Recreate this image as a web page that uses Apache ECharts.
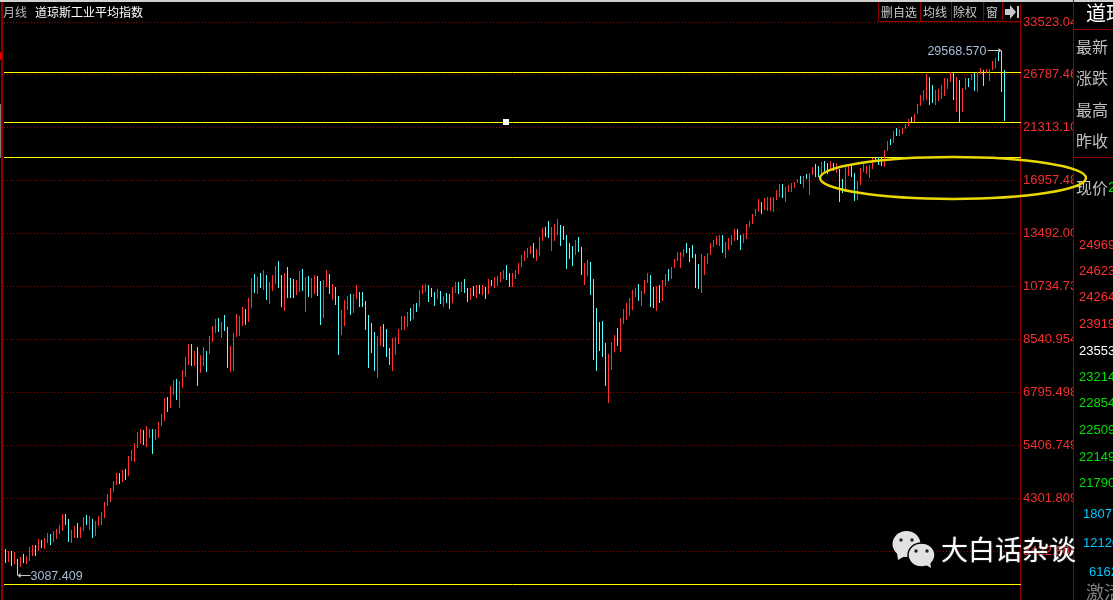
<!DOCTYPE html>
<html><head><meta charset="utf-8">
<style>html,body{margin:0;padding:0;background:#000;overflow:hidden}#c{width:1113px;height:600px}</style>
<script src="https://cdn.jsdelivr.net/npm/echarts@6/dist/echarts.min.js"></script>
</head><body><div id="c"></div>
<script>
const monthHighs=[3459,3429,3429,3414,3313,3342,3385,3356,3489,3519,
3519,3611,3596,3626,3706,3690,3738,3770,3836,4022,
4022,3936,3754,3820,3869,3803,3970,4005,3987,3936,
3903,3987,4057,4236,4385,4500,4638,4800,4800,4863,
4883,5165,5301,5463,5728,5803,5778,5878,5803,5803,
5803,5981,6191,6633,6661,6984,7168,7198,7137,7484,
7915,8372,8372,8123,8264,7983,8264,8123,8665,9047,
9324,9364,9205,9487,9008,8300,8778,9528,9446,9819,
9735,10208,11127,11321,11175,11370,11519,11273,10938,11273,
11718,11974,11273,11370,11668,11127,11079,11033,11469,11567,
11175,11224,11127,11273,11224,10985,11033,11519,11321,10844,
10704,10296,9694,10121,10296,10386,10386,10797,10476,10476,
10077,9487,9165,8816,8665,9047,9126,8931,8228,8590,
8628,8931,9446,9446,9611,9777,9947,9990,10567,10797,
10844,10797,10658,10476,10612,10521,10296,10431,10386,10704,
10938,10938,10938,11079,10658,10658,10751,10797,10797,10797,
10704,11079,11033,11175,11224,11420,11519,11769,11370,11370,
11519,11871,12288,12502,12665,12774,12941,12610,13279,13804,
13864,14228,13864,14045,14351,13984,13924,13394,12941,12774,
13110,13279,12719,11871,12026,11922,11079,9777,9205,9245,
8408,8018,8445,8703,8969,9364,9735,9990,10208,10567,
10658,10844,10521,11033,11370,11273,10704,10751,10797,11033,
11321,11567,11668,12077,12448,12448,12610,12941,12665,12830,
12341,11820,12341,12235,12394,12941,13110,13336,13394,13394,
12997,13222,13394,13744,13744,13394,13452,14045,14228,14664,
14982,15642,15443,15710,15778,15778,15778,16263,16689,16689,
16474,16617,16761,16834,17051,17274,17274,17424,17499,17957,
18191,18035,18349,18429,18270,18429,18270,18270,17802,17051,
17957,18113,18191,17499,16907,17879,18191,18035,18113,18668,
18749,18749,18668,19325,20089,20261,20974,21245,21153,21245,
21616,22085,22277,22568,23563,24495,25030,26817,26471,25574,
25030,25135,25574,26357,26357,27050,26933,26471,26133,25244,
26357,26357,26817,26933,27050,27518,27285,27400,27400,28364,
28730,29486,29568.57,27285];
const monthLows=[3257,3271,3215,3243,3087.409,3201,3257,3243,3285,3356,
3356,3429,3474,3459,3550,3519,3565,3611,3690,3738,
3836,3565,3550,3626,3626,3626,3738,3836,3754,3626,
3658,3820,3836,3953,4164,4236,4423,4558,4578,4618,
4658,4738,5055,5033,5346,5439,5416,5369,5582,5210,
5534,5582,5878,6007,6245,6352,6719,6576,6352,6924,
7261,7647,7614,7614,6984,7388,7614,7420,8018,8445,
8778,8816,8590,8855,7548,7420,7452,8628,8665,9047,
9086,9205,9777,10431,10386,10658,10567,10121,9947,10521,
10844,10658,9819,9652,10208,10208,10208,10341,10476,10521,
9611,10252,10208,10386,10296,9086,9364,10704,10386,10121,
9905,7983,8703,9047,9694,9487,9569,10164,9819,9819,
8893,7548,8053,7452,7230,8300,8264,7915,7647,7452,
7983,8372,8893,8893,9008,9245,9324,9611,9819,10386,
10476,10034,10252,9862,10164,9947,9819,9990,9735,9990,
10431,10386,10476,10431,10034,10121,10296,10208,10386,10341,
10164,10386,10751,10658,10751,10938,11079,11033,10704,10704,
11079,11321,11668,11974,12129,12341,12129,11974,12235,13053,
13279,13222,12502,13053,13394,12774,13110,11567,12077,11718,
12288,12448,11273,10797,11224,10341,7814,7452,8123,7915,
6984,6492,7484,8088,8300,8088,9126,9285,9446,9694,
10252,10077,9862,10386,10891,9819,9777,9652,9990,10077,
10751,10985,11079,11617,11974,11617,12182,12394,11922,12129,
10658,10612,10431,11273,11820,12288,12719,12830,12774,12394,
12129,12556,12830,13053,13110,12556,12941,13165,13864,14045,
14538,14792,14664,14920,14856,14856,14792,15577,15778,15710,
15443,16123,16123,16403,16761,16689,16403,17051,15915,17349,
17199,17199,17424,17651,17424,17802,17651,17499,15443,16053,
16123,17274,17199,15510,15577,16617,17575,17424,17125,17802,
18349,18113,18035,17957,19242,19744,19916,20526,20526,20704,
21153,21430,21804,21804,22568,23360,23870,23974,23461,23665,
23461,23870,24074,24389,25135,25908,23974,22764,21804,22764,
25030,25354,26133,24922,24814,26817,25463,26933,26020,27285,
27518,28364,24814,21898];
const monthRising=[0,1,0,1,0,1,0,1,1,1,
0,1,0,1,1,0,1,1,1,1,
0,0,1,1,0,1,1,0,1,0,
1,1,1,1,1,1,1,1,0,1,
0,1,1,1,1,1,0,1,1,0,
1,1,1,1,0,1,1,0,1,1,
1,1,0,1,0,1,1,0,1,1,
1,0,1,0,0,1,1,1,1,1,
0,1,1,0,1,0,1,0,1,1,
1,0,0,1,0,0,0,1,1,0,
1,0,1,1,0,0,1,1,0,1,
0,0,1,1,1,0,1,1,0,0,
0,0,0,0,1,1,0,0,0,1,
1,1,1,1,1,0,1,0,1,1,
1,0,0,0,1,0,1,0,0,1,
1,0,1,0,0,1,0,1,0,1,
0,1,0,1,1,1,1,0,0,1,
1,1,1,1,1,1,0,1,1,1,
0,0,1,1,1,0,0,0,0,0,
1,0,0,1,1,0,0,0,0,0,
0,1,1,1,0,1,1,1,1,1,
1,0,1,1,1,0,0,1,0,1,
1,0,1,1,1,1,1,0,0,0,
0,0,1,1,1,1,1,1,1,0,
1,1,1,1,0,0,1,1,1,1,
1,1,0,1,1,1,1,1,1,0,
1,1,1,1,1,0,1,0,1,1,
0,0,1,0,0,1,0,1,0,0,
1,1,0,0,1,1,1,1,1,1,
0,0,0,1,1,0,1,0,1,1,
1,1,0,1,1,1,1,1,0,0,
1,1,1,1,1,1,0,1,0,1,
1,0,1,0,1,1,0,1,1,1,
1,0,0,0];
const tickValues=[33523.04,26787.46,21313.10,16957.48,13492.00,10734.73,8540.954,6795.498,5406.749,4301.809,3422.806];
const tickLabels=['33523.04','26787.46','21313.10','16957.48','13492.00','10734.73','8540.954','6795.498','5406.749','4301.809','3422.806'];
const supportLevels=[27015,21777,18726,2970.7];
const extremes=[{index:332,value:29568.57,text:'29568.570',side:'left'},{index:4,value:3087.409,text:'3087.409',side:'right'}];
const panelLabels=['最新','涨跌','最高','昨收','现价'];
const panelLabelY=[47,78,110,141,188];
const bookValues=['24969','24623','24264','23919','23553','23214','22854','22509','22149','21790','18077','12120','6162'];
const bookY=[245,271,297,324,351,377,403,430,457,483,514,543,572];
const bookColors=['#ff3232','#ff3232','#ff3232','#ff3232','#ffffff','#00e000','#00e000','#00e000','#00e000','#00e000','#00c8ff','#00c8ff','#00c8ff'];
const bookX=[1079,1079,1079,1079,1079,1079,1079,1079,1079,1079,1083,1083,1089];
const toolbarLabels=['删自选','均线','除权','窗'];
const toolbarX=[881,923,953,986];
const toolbarDividers=[878,920,951,983,1002];

const categories=[];
for(let k=0;k<339;k++){const m=5+k;categories.push((1992+Math.floor(m/12))+'-'+String(m%12+1).padStart(2,'0'));}

const RED='#ff3232',CYAN='#54ffff',DARK='#8f0000',CJK='"Noto Sans CJK SC","Noto Sans",sans-serif',LAT='"Liberation Sans",Arial,sans-serif';
const barData=monthHighs.map((h,i)=>[i,h,monthLows[i],monthRising[i]]);

const g=[];
function rect(x,y,w,h,fill,z){g.push({type:'rect',silent:true,z:z||50,shape:{x,y,width:w,height:h},style:{fill}});}
function text(x,y,s,fill,size,font,z,extra){g.push({type:'text',silent:true,z:z||60,x,y,style:Object.assign({text:s,fill,font:(size)+'px '+font,textAlign:'left',textVerticalAlign:'middle'},extra||{})});}
rect(1073,0,40,600,'#000',50);
rect(0,0,1113,2,'#d0d0d0',55);
rect(1,2,2,598,'#900000',55);
rect(0,52,1,8,'#ff0000',55);
rect(0,104,1,54,'#808080',55);
rect(1073,0,1,600,DARK,56);
rect(1073,29,40,1,DARK,56);
rect(1073,157,40,1,DARK,56);
rect(878,21,142,1,DARK,56);
toolbarDividers.forEach(x=>rect(x,2,1,20,DARK,56));
text(3,12,'月线','#b8b8b8',12,CJK);
text(35,12,'道琼斯工业平均指数','#ffffff',12,CJK);
toolbarLabels.forEach((s,i)=>text(toolbarX[i],12,s,'#c8c8c8',12,CJK));
g.push({type:'polygon',silent:true,z:60,shape:{points:[[1005,9],[1010,9],[1010,5],[1016,12],[1010,19],[1010,15],[1005,15]]},style:{fill:'#c8c8c8'}});
rect(1017,6,2,12,'#c8c8c8',60);
text(1086,13,'道琼斯工业平均指数','#ffffff',20,CJK);
panelLabels.forEach((s,i)=>text(1076,panelLabelY[i],s,'#c0c0c0',16,CJK));
text(1108,188,'2','#00e000',15,LAT);
bookValues.forEach((s,i)=>text(bookX[i],bookY[i],s,bookColors[i],13,LAT));
text(1086,592,'激活','#808080',18,CJK);
rect(503,119,6,6,'#ffffff',60);
g.push({type:'ellipse',silent:true,z:70,shape:{cx:953,cy:178,rx:133,ry:21},style:{fill:'none',stroke:'#e8d800',lineWidth:2.5}});
// watermark
g.push({type:'ellipse',silent:true,z:80,shape:{cx:906.5,cy:544,rx:14,ry:13},style:{fill:'#e2e2e2'}});
g.push({type:'polygon',silent:true,z:80,shape:{points:[[897,553],[898,560],[905,556]]},style:{fill:'#e2e2e2'}});
g.push({type:'ellipse',silent:true,z:81,shape:{cx:921.5,cy:555,rx:13.5,ry:12},style:{fill:'#e2e2e2',stroke:'#000',lineWidth:1.5}});
g.push({type:'polygon',silent:true,z:81,shape:{points:[[926,565],[931,568],[930,561]]},style:{fill:'#e2e2e2'}});
[[901,540],[912,540],[916,551],[927,551]].forEach(p=>g.push({type:'circle',silent:true,z:82,shape:{cx:p[0],cy:p[1],r:1.7},style:{fill:'#222'}}));
text(941,550,'大白话杂谈','#ffffff',27,CJK,85,{textShadowColor:'rgba(120,120,120,.8)',textShadowBlur:2});

const chart=echarts.init(document.getElementById('c'),null,{renderer:'canvas'});
chart.setOption({
 animation:false,backgroundColor:'#000',
 grid:{left:4,top:4,width:1017,height:596,containLabel:false},
 xAxis:{type:'category',data:categories,boundaryGap:true,show:false},
 yAxis:{type:'log',logBase:10,min:2775.8,max:36271,position:'right',offset:-1,
  axisLine:{show:true,lineStyle:{color:DARK,width:1}},
  axisTick:{show:false,customValues:tickValues},
  minorTick:{show:false},minorSplitLine:{show:false},
  splitLine:{show:true,lineStyle:{color:'#990000',width:1,type:[1,2]}},
  axisLabel:{show:true,customValues:tickValues,margin:3,color:'#f03030',fontFamily:LAT,fontSize:13,hideOverlap:false,showMinLabel:true,showMaxLabel:true,
   formatter:v=>{let b=0;tickValues.forEach((t,i)=>{if(Math.abs(t-v)<Math.abs(tickValues[b]-v))b=i;});return tickLabels[b];}}},
 graphic:{elements:g},
 series:[
 {type:'custom',name:'月线',coordinateSystem:'cartesian2d',clip:false,silent:true,z:5,
  encode:{x:0,y:[1,2]},data:barData,
  renderItem:(p,api)=>{const a=api.coord([api.value(0),api.value(1)]),b=api.coord([api.value(0),api.value(2)]);
   return {type:'line',shape:{x1:a[0],y1:Math.round(a[1]),x2:a[0],y2:Math.round(b[1])},style:{stroke:api.value(3)?RED:CYAN,lineWidth:1}};},
  markLine:{silent:true,symbol:'none',animation:false,label:{show:false},lineStyle:{color:'#ffff00',width:1,type:'solid'},data:supportLevels.map(v=>({yAxis:v}))}},
 {type:'custom',name:'极值',coordinateSystem:'cartesian2d',clip:false,silent:true,z:6,
  data:extremes.map(e=>[e.index,e.value,e.text,e.side]),encode:{x:0,y:1},dimensions:['i','v',{name:'t',type:'ordinal'},{name:'s',type:'ordinal'}],
  renderItem:(p,api)=>{const e=extremes[p.dataIndex],c=api.coord([e.index,e.value]);const y=Math.round(c[1])-(e.side==='left'?1:0)+.5,L=e.side==='left';
   const xA=L?c[0]-14:c[0]+13,head=L?-3:3;
   return {type:'group',children:[
    {type:'line',shape:{x1:c[0],y1:y,x2:xA,y2:y},style:{stroke:'#c8c8c8',lineWidth:1}},
    {type:'polygon',shape:{points:[[c[0],y],[c[0]+head,y-2.5],[c[0]+head,y+2.5]]},style:{fill:'#c8c8c8'}},
    {type:'text',x:L?xA-1:xA,y:y+1,style:{text:e.text,fill:'#a8bcd8',font:'12.5px '+LAT,textAlign:L?'right':'left',textVerticalAlign:'middle'}}
   ]};}}
 ]
});
</script></body></html>
